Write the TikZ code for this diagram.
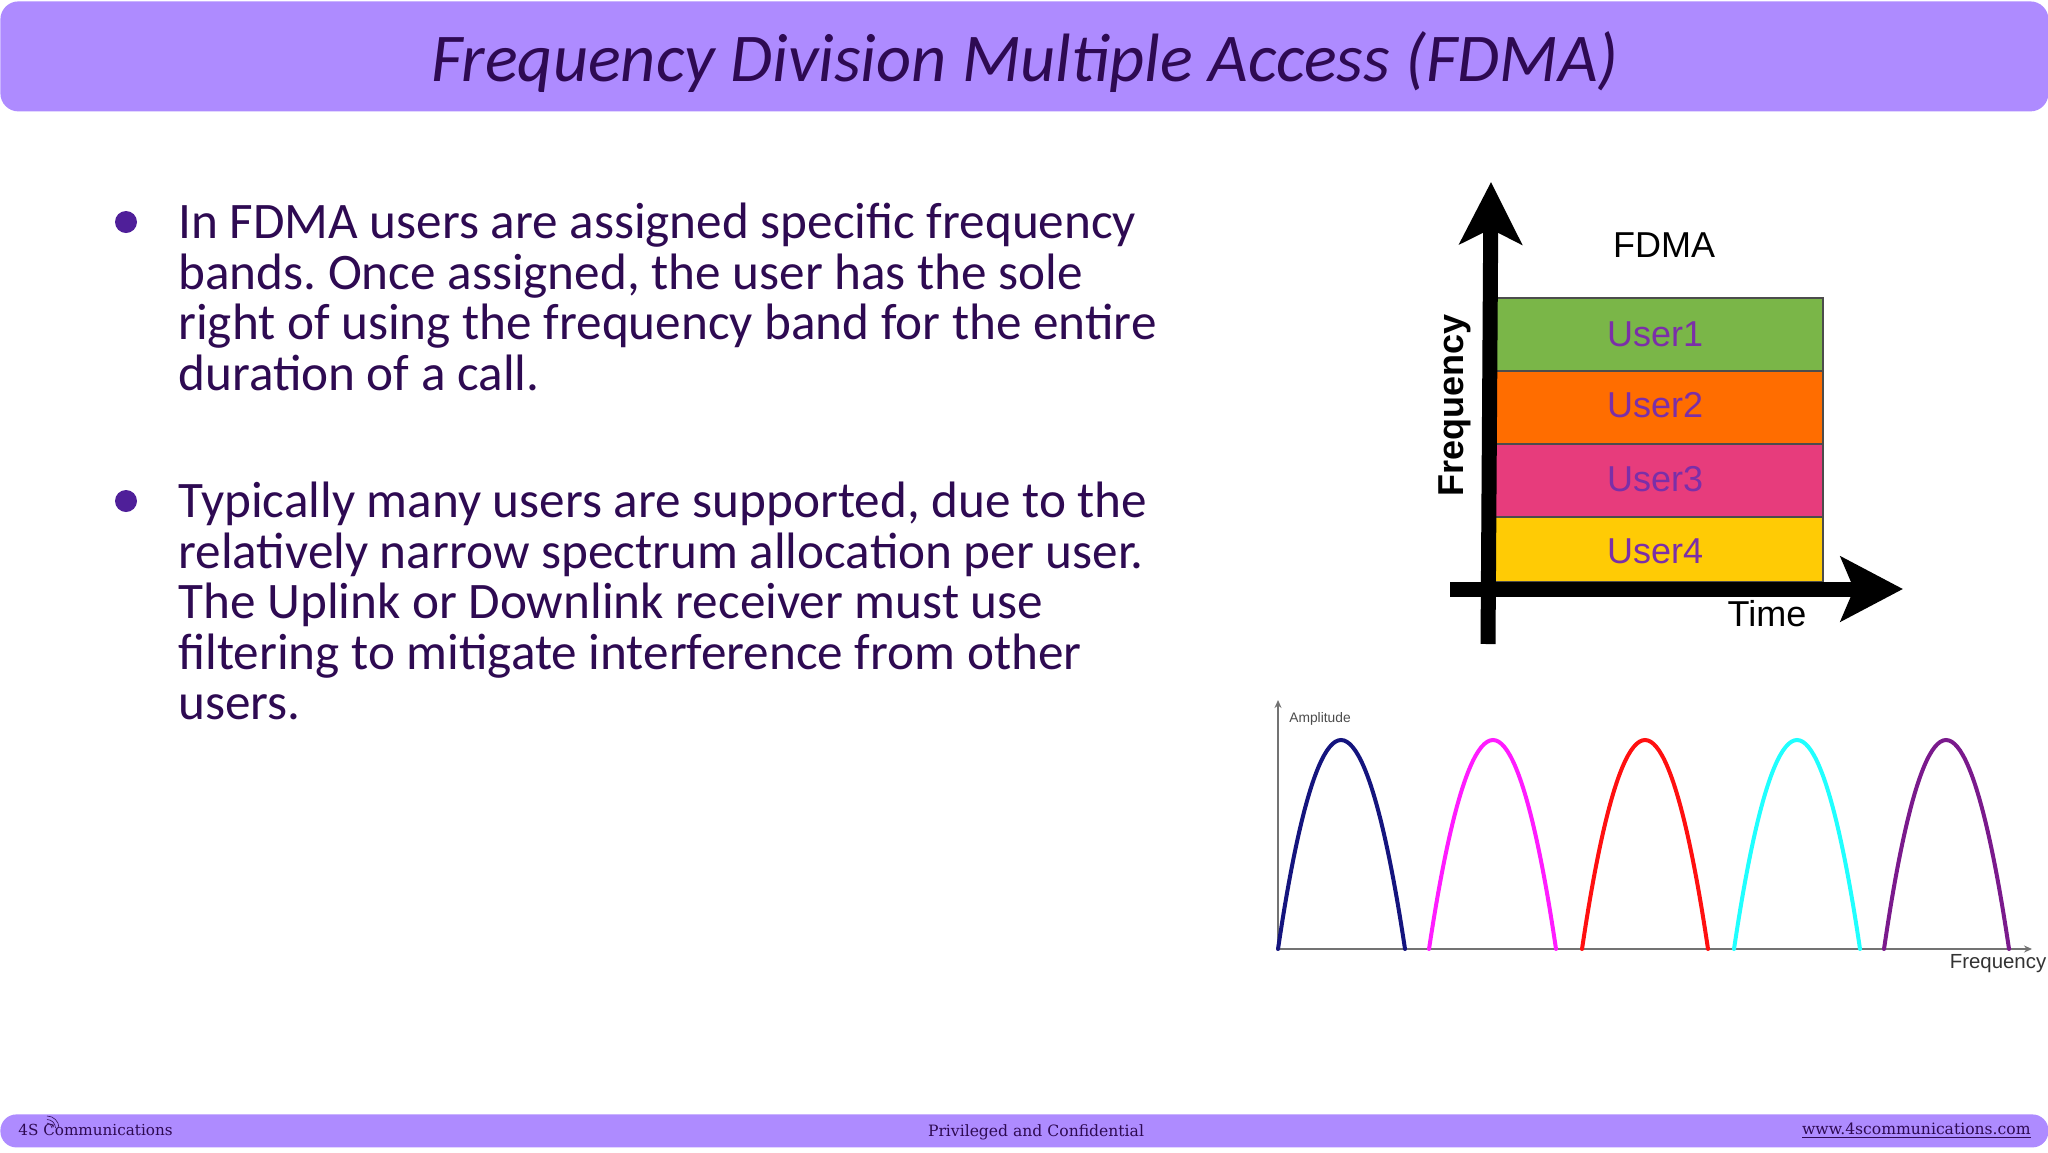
\documentclass[tikz,border=0pt]{standalone}
\usepackage{fontspec}
\usetikzlibrary{arrows.meta}
\setmainfont{Carlito}
\newfontfamily\arialf{Liberation Sans}
\newfontfamily\slabf{DejaVu Serif}
\definecolor{barcol}{HTML}{AE8BFF}
\definecolor{inkcol}{HTML}{2E0A52}
\definecolor{bulcol}{HTML}{4F1F99}
\definecolor{usercol}{HTML}{7B2FA8}
\definecolor{bgreen}{HTML}{7AB648}
\definecolor{borange}{HTML}{FF6D00}
\definecolor{bpink}{HTML}{E73C7C}
\definecolor{byellow}{HTML}{FFCB05}
\definecolor{cnavy}{HTML}{14147E}
\definecolor{cmag}{HTML}{FF1CFF}
\definecolor{cred}{HTML}{FF1010}
\definecolor{ccyan}{HTML}{20FFFF}
\definecolor{cpurp}{HTML}{7A1A8C}
\tikzset{
  barbox/.style={fill=barcol,draw=none},
  bodytext/.style={anchor=north west,inner sep=0pt,align=left,text=inkcol,font=\frenchspacing\fontsize{25.6pt}{25.25pt}\selectfont},
  bulletdot/.style={circle,fill=bulcol,draw=none,minimum size=11pt,inner sep=0pt},
  foot/.style={inner sep=0pt,text=inkcol,font=\slabf\fontsize{7.8pt}{9pt}\selectfont},
  band/.style={draw=black!70,line width=0.9pt,anchor=north west,inner sep=0pt,minimum width=166pt},
  userlbl/.style={inner sep=0pt,text=usercol,font=\arialf\fontsize{18pt}{20pt}\selectfont},
  biglbl/.style={inner sep=0pt,text=black,font=\arialf\fontsize{18pt}{20pt}\selectfont},
  bigaxis/.style={line width=7.5pt,black},
  smallaxis/.style={line width=1.2pt,black!55,-{Stealth[length=4pt,width=3.5pt]}},
  hump/.style={line width=2pt,line cap=round},
}
\begin{document}
\begin{tikzpicture}[x=0.5pt,y=-0.5pt]
\useasboundingbox (0,0) rectangle (2048,1152);
\fill[white] (0,0) rectangle (2048,1152);
% title bar
\node[barbox,rounded corners=9pt,minimum width=1024pt,minimum height=55pt,inner sep=0pt,anchor=north west] (titlebar) at (0,1) {};
\node[inner sep=0pt,text=inkcol,font=\itshape\fontsize{34.2pt}{36pt}\selectfont] (titletext) at (1025,62) {Frequency Division Multiple Access (FDMA)};
% body
\node[bulletdot] (b1) at (126,222) {};
\node[bulletdot] (b2) at (126,501) {};
\node[bodytext] (t1) at (178,203) {In FDMA users are assigned specific frequency\\bands. Once assigned, the user has the sole\\right of using the frequency band for the entire\\duration of a call.};
\node[bodytext] (t2) at (178,482) {Typically many users are supported, due to the\\relatively narrow spectrum allocation per user.\\The Uplink or Downlink receiver must use\\filtering to mitigate interference from other\\users.};
% FDMA chart
\node[band,fill=bgreen,minimum height=36.5pt] (u1) at (1490,297) {};
\node[band,fill=borange,minimum height=36.5pt] (u2) at (1490,370) {};
\node[band,fill=bpink,minimum height=36.5pt] (u3) at (1490,443) {};
\node[band,fill=byellow,minimum height=32.5pt] (u4) at (1490,516) {};
\node[userlbl] (l1) at (1655,334) {User1};
\node[userlbl] (l2) at (1655,405) {User2};
\node[userlbl] (l3) at (1655,479) {User3};
\node[userlbl] (l4) at (1655,551) {User4};
\coordinate (vstart) at (1488,644);
\coordinate (vend) at (1491,182);
\coordinate (hstart) at (1450,589);
\coordinate (hend) at (1903,589);
\draw[bigaxis,-{Stealth[length=31pt,width=31pt,inset=7.5pt]}] (vstart) -- (vend);
\draw[bigaxis,-{Stealth[length=31pt,width=32pt,inset=6.5pt]}] (hstart) -- (hend);
\node[biglbl] (fd) at (1664,245) {FDMA};
\node[biglbl] (tm) at (1767,614) {Time};
\node[biglbl,font=\arialf\bfseries\fontsize{18pt}{20pt}\selectfont,rotate=90] (fq) at (1455,405) {Frequency};
% spectrum chart
\coordinate (org) at (1278,949);
\coordinate (ytop) at (1278,700);
\coordinate (xend) at (2032,949);
\draw[smallaxis] (org) -- (ytop);
\draw[smallaxis] (org) -- (xend);
\node[inner sep=0pt,text=black!70,font=\arialf\fontsize{6.9pt}{8pt}\selectfont] (amp) at (1320,719) {Amplitude};
\node[inner sep=0pt,text=black!80,font=\arialf\fontsize{10.2pt}{12pt}\selectfont] (frq) at (1998,964) {Frequency};
\coordinate (a0) at (1278,949); \coordinate (a1) at (1341,740); \coordinate (a2) at (1405,949);
\coordinate (b0) at (1429,949); \coordinate (b1c) at (1493,740); \coordinate (b2c) at (1556,949);
\coordinate (c0) at (1582,949); \coordinate (c1) at (1645,740); \coordinate (c2) at (1708,949);
\coordinate (d0) at (1734,949); \coordinate (d1) at (1797,740); \coordinate (d2) at (1860,949);
\coordinate (e0) at (1884,949); \coordinate (e1) at (1946,740); \coordinate (e2) at (2009,949);
\draw[hump,cnavy] (a0) parabola bend (a1) (a2);
\draw[hump,cmag] (b0) parabola bend (b1c) (b2c);
\draw[hump,cred] (c0) parabola bend (c1) (c2);
\draw[hump,ccyan] (d0) parabola bend (d1) (d2);
\draw[hump,cpurp] (e0) parabola bend (e1) (e2);
% footer
\node[barbox,rounded corners=8pt,minimum width=1024pt,minimum height=16.5pt,inner sep=0pt,anchor=north west] (footbar) at (0,1114) {};
\node[foot,anchor=west,font=\slabf\fontsize{7.6pt}{9pt}\selectfont] (f1) at (18,1130) {4S Communications};
\node[foot] (f2) at (1036,1132) {Privileged and Confidential};
\node[foot,anchor=east] (f3) at (2031,1131) {\underline{www.4scommunications.com}};
\coordinate (wifi) at (47,1128);
\draw[inkcol,line width=0.3pt] ([shift={(0:5)}]wifi) arc (0:-90:5);
\draw[inkcol,line width=0.3pt] ([shift={(0:8.5)}]wifi) arc (0:-90:8.5);
\draw[inkcol,line width=0.3pt] ([shift={(0:12)}]wifi) arc (0:-90:12);
\end{tikzpicture}
\end{document}
